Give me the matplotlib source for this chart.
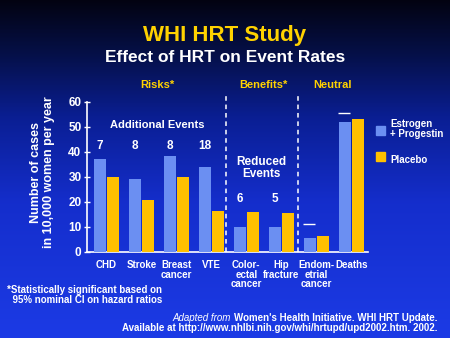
import numpy as np
import matplotlib
matplotlib.use("Agg")
import matplotlib.pyplot as plt
from matplotlib.colors import LinearSegmentedColormap
from matplotlib.patches import Rectangle

plt.rcParams['font.family'] = ['Liberation Sans', 'DejaVu Sans']

categories = ["CHD", "Stroke", "Breast\ncancer", "VTE", "Color-\nectal\ncancer",
              "Hip\nfracture", "Endom-\netrial\ncancer", "Deaths"]
estrogen_progestin = [37, 29, 38.3, 33.8, 10, 10, 5.6, 51.7]
placebo = [30, 20.7, 30, 16.3, 15.8, 15.3, 6.3, 53]
added_events = {0: "7", 1: "8", 2: "8", 3: "18"}
reduced_events = {4: "6", 5: "5"}
neutral_dash = {6: 11, 7: 55.6}
yticks = [0, 10, 20, 30, 40, 50, 60]

W, H = 450, 338
fig = plt.figure(figsize=(W / 100, H / 100), dpi=100)

def fx(px):
    return px / W

def fy(py):
    return 1 - py / H

# background gradient
bg = fig.add_axes([0, 0, 1, 1])
bg.set_axis_off()
cmap = LinearSegmentedColormap.from_list("bg", [
    (0.0, (0.01, 0.01, 0.07)),
    (0.15, (0.02, 0.06, 0.27)),
    (0.35, (0.04, 0.12, 0.58)),
    (0.6, (0.08, 0.18, 0.80)),
    (1.0, (0.11, 0.23, 0.90)),
])
grad = np.linspace(0, 1, 256).reshape(-1, 1)
bg.imshow(grad, aspect='auto', cmap=cmap, extent=[0, 1, 0, 1], origin='upper')
bg.set_xlim(0, 1)
bg.set_ylim(0, 1)

blue = "#6b8ff2"
yellow = "#ffc000"
white = "white"
gold = "#ffd200"

ax = fig.add_axes([fx(87), fy(251.7), (368 - 87) / W, 150 / H])
ax.patch.set_alpha(0)
x = np.arange(len(categories))
bw = 0.345
ax.bar(x - bw / 2 - 0.015, estrogen_progestin, bw, color=blue, zorder=3)
ax.bar(x + bw / 2 + 0.015, placebo, bw, color=yellow, zorder=3)
ax.set_xlim(-0.56, 7.48)
ax.set_ylim(0, 60)
ax.set_yticks(yticks)
ax.set_yticklabels([str(v) for v in yticks], color=white, fontsize=8.5, fontweight='bold')
ax.set_xticks(x)
ax.set_xticklabels(categories, color=white, fontsize=7, fontweight='bold', linespacing=0.95, va='top')
ax.tick_params(axis='x', length=0, pad=6)
ax.tick_params(axis='y', direction='inout', length=4, color=white, width=1, pad=2)
for s in ['top', 'right']:
    ax.spines[s].set_visible(False)
for s in ['left', 'bottom']:
    ax.spines[s].set_color(white)
    ax.spines[s].set_linewidth(1.2)

# dashed separators
for xs in [3.42, 5.47]:
    ax.plot([xs, xs], [0, 62.7], ls=(0, (3, 2.5)), color=white, lw=1.1, clip_on=False, zorder=4)

# annotations
for i, t in added_events.items():
    ax.text(x[i] - bw / 2 - 0.015, 42.3, t, color=white, fontsize=8.5, fontweight='bold', ha='center', va='center')
for i, t in reduced_events.items():
    ax.text(x[i] - bw / 2 - 0.015, 21, t, color=white, fontsize=8.5, fontweight='bold', ha='center', va='center')
for i, v in neutral_dash.items():
    ax.plot([x[i] - bw - 0.03, x[i] - 0.03], [v, v], color=white, lw=1, solid_capstyle='butt')

ax.text(1.45, 50.8, "Additional Events", color=white, fontsize=8, fontweight='bold', ha='center', va='center')
ax.text(4.43, 33.5, "Reduced\nEvents", color=white, fontsize=8.5, fontweight='bold', ha='center', va='center', linespacing=0.95)

# titles
fig.text(0.5, fy(36), "WHI HRT Study", color=gold, fontsize=16, fontweight='bold', ha='center', va='center')
fig.text(0.5, fy(58), "Effect of HRT on Event Rates", color=white, fontsize=12.5, fontweight='bold', ha='center', va='center')
fig.text(fx(157), fy(85), "Risks*", color=gold, fontsize=8, fontweight='bold', ha='center', va='center')
fig.text(fx(263), fy(85), "Benefits*", color=gold, fontsize=8, fontweight='bold', ha='center', va='center')
fig.text(fx(332), fy(85), "Neutral", color=gold, fontsize=8, fontweight='bold', ha='center', va='center')

# y label
fig.text(fx(42.5), fy(172), "Number of cases\nin 10,000 women per year", color=white, fontsize=9,
         fontweight='bold', ha='center', va='center', rotation=90, linespacing=1.05)

# legend
fig.patches.append(Rectangle((fx(376), fy(135)), 9 / W, 9 / H, transform=fig.transFigure, color=blue))
fig.patches.append(Rectangle((fx(376), fy(161)), 9 / W, 9 / H, transform=fig.transFigure, color=yellow))
fig.text(fx(390), fy(129), "Estrogen\n+ Progestin", color=white, fontsize=7, fontweight='bold', ha='left', va='center', linespacing=0.95)
fig.text(fx(390), fy(160), "Placebo", color=white, fontsize=7, fontweight='bold', ha='left', va='center')

# footnotes
fig.text(fx(7), fy(295), "*Statistically significant based on\n  95% nominal CI on hazard ratios", color=white,
         fontsize=7, fontweight='bold', ha='left', va='center', linespacing=1.0)
t1 = fig.text(fx(437), fy(318), "Women's Health Initiative. WHI HRT Update.", color=white, fontsize=7,
              fontweight='bold', ha='right', va='center')
fig.text(fx(437), fy(328), "Available at http://www.nhlbi.nih.gov/whi/hrtupd/upd2002.htm. 2002.", color=white,
         fontsize=7, fontweight='bold', ha='right', va='center')
renderer = fig.canvas.get_renderer()
bb = t1.get_window_extent(renderer=renderer)
fig.text((bb.x0 - 3) / W, fy(318), "Adapted from", color=white, fontsize=7, fontstyle='italic',
         ha='right', va='center')

fig.savefig("out.png", dpi=100)
